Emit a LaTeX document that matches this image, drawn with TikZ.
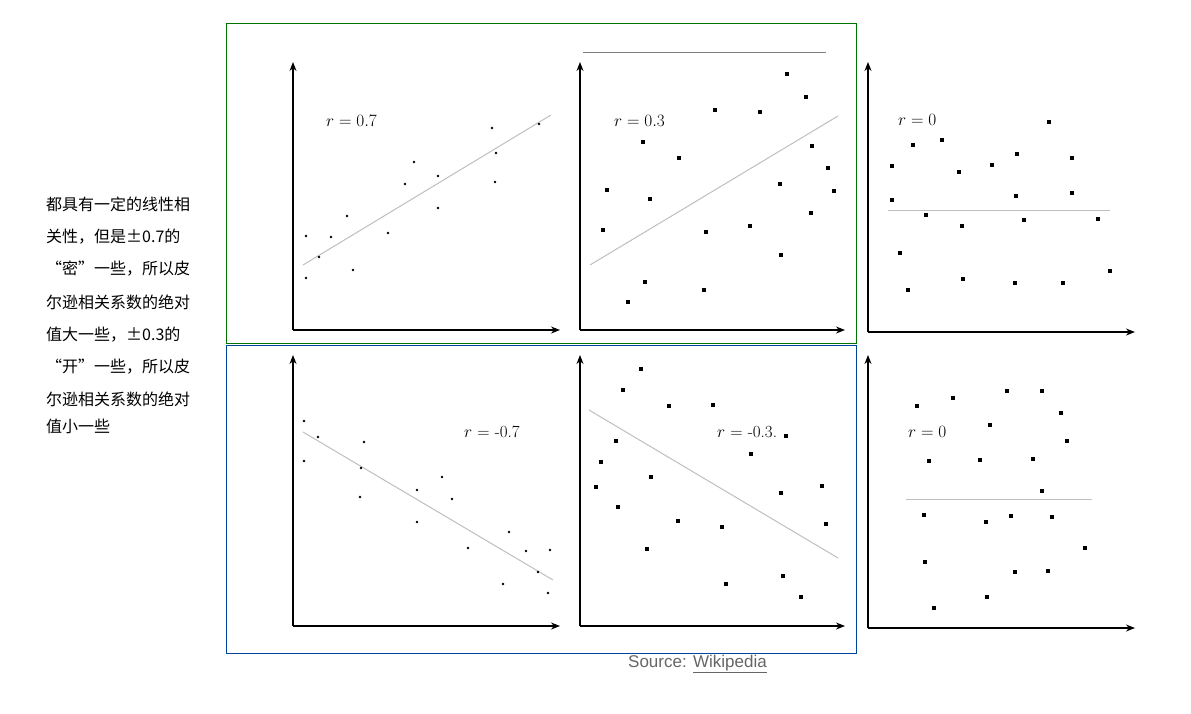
\documentclass[tikz,border=0pt]{standalone}
\usepackage{fontspec}
\newfontfamily\cjk{Noto Sans CJK SC}
\newfontfamily\sans{Liberation Sans}
\usetikzlibrary{arrows.meta}
\begin{document}
\begin{tikzpicture}[x=1pt,y=-1pt,
  axis/.style={line width=1.2pt,-{Stealth[length=9pt,width=7pt]}},
  reg/.style={line width=1pt,black!25},
  lab/.style={font=\fontsize{17}{17}\selectfont,anchor=west,inner sep=0},
  note/.style={font=\cjk\fontsize{16}{16}\selectfont,anchor=west,inner sep=0}]
\useasboundingbox (0,0) rectangle (1191,713);
\fill[white] (0,0) rectangle (1191,713);
\draw[green!45!black,line width=1pt] (226,23) rectangle (856,343);
\draw[blue!55!cyan!60!black,line width=1pt] (226,345) rectangle (856,653);
\draw[black!50,line width=0.6pt] (583,52) -- (826,52);
% axes
\foreach \ox/\oy/\top/\xr in {293/330/62/560, 580/330/62/845, 868/332/62/1135, 293/626/355/560, 580/626/355/845, 868/628/355/1135}{
  \draw[axis] (\ox,\oy) -- (\ox,\top);
  \draw[axis] (\ox,\oy) -- (\xr,\oy);}
% regression lines
\draw[reg] (303,265) -- (551,115);
\draw[reg] (590,265) -- (838,116);
\draw[reg] (888,210) -- (1110,210);
\draw[reg] (303,432) -- (553,580);
\draw[reg] (589,410) -- (838,558);
\draw[reg] (906,499) -- (1092,499);
% labels
\node[lab] (l1) at (326,121) {$r=0.7$};
\node[lab] (l2) at (614,121) {$r=0.3$};
\node[lab] (l3) at (898,120) {$r=0$};
\node[lab] (l4) at (464,432) {$r$ = -0.7};
\node[lab] (l5) at (717,432) {$r$ = -0.3.};
\node[lab] (l6) at (908,432) {$r=0$};
% dots
\foreach \p in {(306,236),(306,278),(319,257),(331,237),(347,216),(353,270),(388,233),(405,184),(414,162),(438,176),(438,208),(492,128),(496,153),(495,182),(539,124),
(304,421),(304,461),(318,437),(364,442),(361,468),(360,497),(417,490),(417,522),(442,477),(452,499),(468,548),(509,532),(526,551),(550,550),(503,584),(538,572),(548,593)}
  \fill \p circle (1.4pt);
\foreach \p in {(607,190),(603,230),(628,302),(645,282),(643,142),(650,199),(679,158),(706,232),(704,290),(715,110),(750,226),(760,112),(781,255),(780,184),(787,74),(806,97),(812,146),(811,213),(828,168),(834,191),
(892,166),(892,200),(913,145),(942,140),(926,215),(900,253),(908,290),(959,172),(962,226),(963,279),(992,165),(1017,154),(1016,196),(1024,220),(1015,283),(1049,122),(1072,158),(1072,193),(1063,283),(1098,219),(1110,271),
(641,369),(623,390),(616,441),(601,462),(596,487),(618,507),(651,477),(647,549),(678,521),(669,406),(713,405),(722,527),(751,454),(781,493),(786,436),(726,584),(783,576),(801,597),(822,486),(826,524),
(917,406),(953,398),(1007,391),(1042,391),(1061,413),(990,425),(929,461),(980,460),(1033,459),(1067,441),(1042,491),(924,515),(986,522),(1011,516),(1052,517),(1085,548),(925,562),(1015,572),(1048,571),(934,608),(987,597)}
  \fill \p ++(-1.6,-1.6) rectangle ++(3.2,3.2);
% note
\node[note] (n1) at (46,204) {都具有一定的线性相};
\node[note] (n2) at (46,237) {关性，但是±0.7的};
\node[note] (n3) at (46,269) {“密”一些，所以皮};
\node[note] (n4) at (46,302) {尔逊相关系数的绝对};
\node[note] (n5) at (46,335) {值大一些，±0.3的};
\node[note] (n6) at (46,367) {“开”一些，所以皮};
\node[note] (n7) at (46,399) {尔逊相关系数的绝对};
\node[note] (n8) at (46,426) {值小一些};
\node[anchor=west,inner sep=0,font=\sans\fontsize{17}{17}\selectfont,text=black!60] (src) at (628,664) {Source: \underline{Wikipedia}};
\end{tikzpicture}
\end{document}
